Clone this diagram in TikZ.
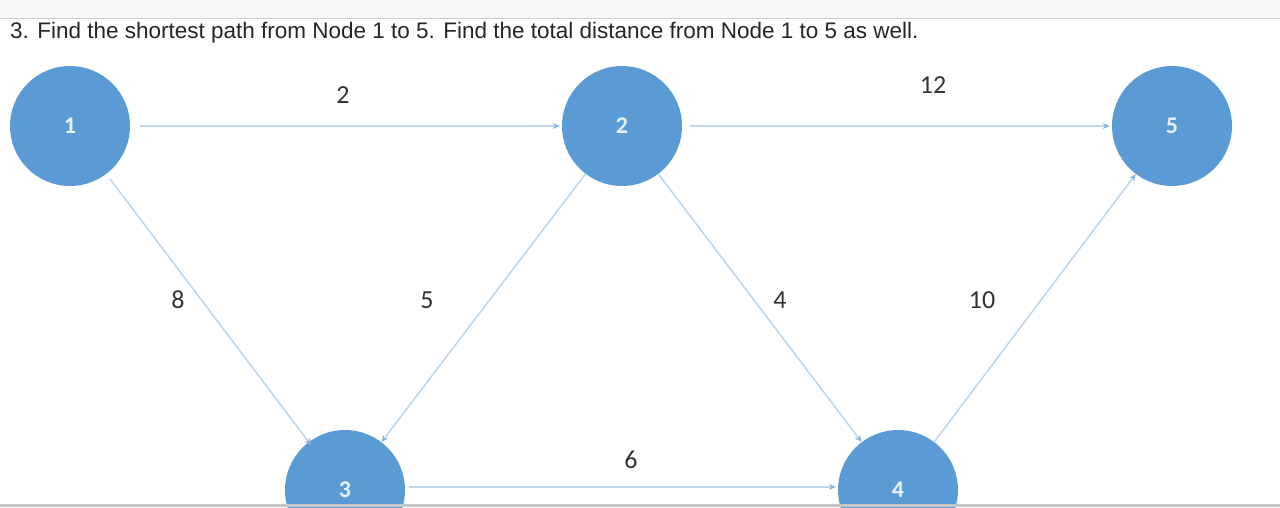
\documentclass[tikz,border=0pt]{standalone}
\usepackage{fontspec}
\setmainfont{Liberation Sans}
\newfontfamily\carlitofont{Carlito}
\usetikzlibrary{arrows.meta}
\definecolor{nodeblue}{HTML}{5B9BD5}
\definecolor{edgeblue}{HTML}{BDD7EE}
\definecolor{lab}{HTML}{333333}
\begin{document}
\begin{tikzpicture}[x=1pt,y=-1pt,
  vert/.style={circle,fill=nodeblue,minimum size=120pt,inner sep=0pt,text=white!85!nodeblue,font=\carlitofont\fontsize{24}{24}\selectfont\bfseries},
  edge/.style={draw=edgeblue,line width=1.6pt,-{Stealth[length=7pt,width=6pt,color=nodeblue!75]}},
  wt/.style={text=lab,font=\carlitofont\fontsize{26}{26}\selectfont}]
\useasboundingbox (0,0) rectangle (1280,507);
\fill[gray!6] (0,0) rectangle (1280,18);
\draw[gray!40,line width=1pt] (0,18) -- (1280,18);
\node[anchor=west,font=\fontsize{22.5}{23}\selectfont,text=black!85,inner sep=0pt] (title) at (10,33) {3. Find the shortest path from Node 1 to 5. Find the total distance from Node 1 to 5 as well.};
\node[vert] (n1) at (70,126) {1};
\node[vert] (n2) at (622,126) {2};
\node[vert] (n5) at (1172,126) {5};
\node[vert] (n3) at (345,490) {3};
\node[vert] (n4) at (898,490) {4};
\draw[edge,shorten <=10pt,shorten >=2pt] (n1) -- (n2);
\draw[edge,shorten <=8pt,shorten >=2pt] (n2) -- (n5);
\draw[edge,shorten <=6pt,shorten >=-4pt] (n1) -- (n3);
\draw[edge] (n2) -- (n3);
\draw[edge] (n2) -- (n4);
\draw[edge] (n4) -- (n5);
\draw[edge,shorten <=4pt,shorten >=2pt] ([yshift=3pt]n3.east) -- ([yshift=3pt]n4.west);
\node[wt] (w12) at (343,95) {2};
\node[wt] (w25) at (933,85) {12};
\node[wt] (w13) at (178,300) {8};
\node[wt] (w23) at (427,300) {5};
\node[wt] (w24) at (780,300) {4};
\node[wt] (w45) at (982,300) {10};
\node[wt] (w34) at (631,460) {6};
\fill[gray!45] (0,504) rectangle (1280,507);
\end{tikzpicture}
\end{document}
